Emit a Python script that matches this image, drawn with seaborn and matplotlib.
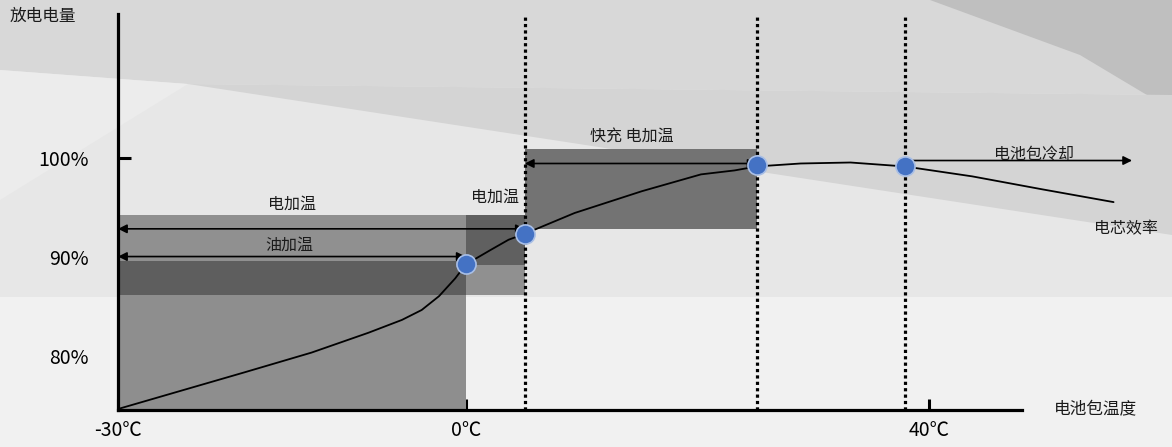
import numpy as np
import matplotlib.pyplot as plt
import seaborn as sns
import pandas as pd
from matplotlib.patches import Polygon

# battery temperature (°C) vs. discharge capacity (%) - schematic
curve_temp = [-30, -24.7, -19.1, -13.3, -8.4, -5.5, -3.8, -2.3, -0.9, 0, 2.2, 3.7, 5.1,
              9.4, 15.2, 20.3, 23.2, 25.1, 28.9, 33.2, 37.9, 43.7, 49.7, 55.9]
curve_eff = [74.6, 76.4, 78.3, 80.3, 82.3, 83.6, 84.6, 86.0, 87.8, 89.2, 90.7, 91.7, 92.3,
             94.4, 96.6, 98.3, 98.7, 99.1, 99.4, 99.5, 99.1, 98.1, 96.8, 95.5]

key_temp = [0, 5.1, 25.1, 37.9]
key_eff = [89.2, 92.3, 99.2, 99.1]

divider_temp = [5.1, 25.1, 37.9]

# heating zones
zone_x0 = [-30, -30, -30, 0, 5.1]
zone_x1 = [0, 5.1, 0, 5.1, 25.1]
zone_y0 = [74.5, 86.1, 86.1, 89.1, 92.8]
zone_y1 = [86.1, 94.2, 89.5, 94.2, 100.9]
zone_col = ['#8e8e8e', '#909090', '#5e5e5e', '#606060', '#737373']

sns.set_style('white')
plt.rcParams['font.family'] = ['Noto Sans CJK SC', 'DejaVu Sans']

fig = plt.figure(figsize=(11.72, 4.47), dpi=100)

# abstract grey backdrop (pixel coordinates)
bg = fig.add_axes([0, 0, 1, 1], zorder=-5)
bg.set_xlim(0, 1172)
bg.set_ylim(447, 0)
bg.axis('off')
bg.add_patch(plt.Rectangle((0, 0), 1172, 447, color='#e7e7e7', lw=0))
bg.add_patch(plt.Rectangle((0, 297), 1172, 150, color='#f1f1f1', lw=0))
bg.add_patch(Polygon([(0, 0), (1172, 0), (1172, 95), (188, 84), (0, 70)], color='#d8d8d8', lw=0))
bg.add_patch(Polygon([(930, 0), (1172, 0), (1172, 110), (1080, 55)], color='#bfbfbf', lw=0))
bg.add_patch(Polygon([(188, 84), (1172, 95), (1172, 235)], color='#d4d4d4', lw=0))
bg.add_patch(Polygon([(0, 70), (188, 84), (0, 200)], color='#ececec', lw=0))

ax = fig.add_axes([118 / 1172, 37 / 447, 904 / 1172, 396 / 447])
ax.patch.set_alpha(0)

for x0, x1, y0, y1, c in zip(zone_x0, zone_x1, zone_y0, zone_y1, zone_col):
    ax.fill_between([x0, x1], y0, y1, color=c, lw=0, zorder=1)

for t in divider_temp:
    ax.axvline(t, color='black', lw=2.3, ls=(0, (1, 1)), zorder=3)

df = pd.DataFrame({'temp': curve_temp, 'eff': curve_eff})
sns.lineplot(data=df, x='temp', y='eff', sort=False, color='black', lw=1.3, ax=ax,
             zorder=4, clip_on=False)
sns.scatterplot(x=key_temp, y=key_eff, s=190, color='#4472c4', edgecolor='#a9bfe6',
                linewidth=1.2, ax=ax, zorder=6, clip_on=False)

arrow = dict(color='black', lw=1.2, mutation_scale=13, shrinkA=0, shrinkB=0)
ax.annotate('', xy=(5.1, 92.8), xytext=(-30, 92.8),
            arrowprops=dict(arrowstyle='<|-|>', **arrow), zorder=5)
ax.annotate('', xy=(0, 90.0), xytext=(-30, 90.0),
            arrowprops=dict(arrowstyle='<|-|>', **arrow), zorder=5)
ax.annotate('', xy=(25.1, 99.4), xytext=(5.1, 99.4),
            arrowprops=dict(arrowstyle='<|-|>', **arrow), zorder=5)
ax.annotate('', xy=(57.5, 99.7), xytext=(37.9, 99.7),
            arrowprops=dict(arrowstyle='-|>', **arrow), zorder=5, annotation_clip=False)

lab = dict(fontsize=11.5, color='#1a1a1a', ha='center', va='center', zorder=7)
ax.text(-15, 95.3, '电加温', **lab)
ax.text(-15.2, 91.1, '油加温', **lab)
ax.text(2.5, 96.0, '电加温', **lab)
ax.text(14.3, 102.1, '快充 电加温', **lab)
ax.text(49.0, 100.3, '电池包冷却', clip_on=False, **lab)
ax.text(57.0, 92.8, '电芯效率', clip_on=False, **lab)

ax.set_xlim(-30, 48)
ax.set_ylim(74.5, 114.5)
ax.set_xticks([-30, 0, 40])
ax.set_xticklabels(['-30℃', '0℃', '40℃'])
ax.set_yticks([80, 90, 100])
ax.set_yticklabels(['80%', '90%', '100%'])
ax.xaxis.get_major_ticks()[0].tick1line.set_visible(False)
ax.tick_params(axis='y', direction='in', length=9, width=2.2, pad=21, labelsize=14,
               left=True, colors='black')
ax.tick_params(axis='x', direction='in', length=8, width=2.2, pad=7, labelsize=14,
               bottom=True, colors='black')
ax.set_xlabel('')
ax.set_ylabel('')
for s in ['top', 'right']:
    ax.spines[s].set_visible(False)
for s in ['left', 'bottom']:
    ax.spines[s].set_color('black')
    ax.spines[s].set_linewidth(2.3)

fig.text(10 / 1172, 1 - 16 / 447, '放电电量', fontsize=12, va='center', ha='left',
         color='#1a1a1a')
fig.text(1095 / 1172, 1 - 410 / 447, '电池包温度', fontsize=12, va='center', ha='center',
         color='#1a1a1a')

fig.savefig('out.png', dpi=100)
